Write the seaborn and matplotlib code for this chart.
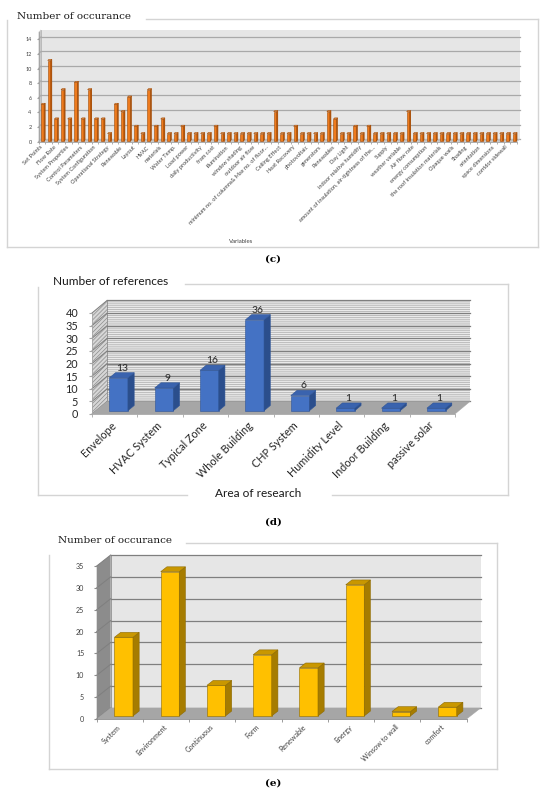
import numpy as np
import pandas as pd
import matplotlib
matplotlib.use("Agg")
import matplotlib.pyplot as plt
from matplotlib.patches import Polygon
from matplotlib.lines import Line2D
import seaborn as sns

W, H = 550, 793

# ---------------- data ----------------
# (c) variables: 72 bars, every other one labelled
variables = ["Set Points", "Flow Rate", "System Properties", "Control Parameters",
             "System Configuration", "Operational Strategy", "Renewable", "Layout", "HVAC",
             "materials", "Water Temp.", "Load power", "daily productivity", "fram cost",
             "illumination", "window shading", "outdoor air flow",
             "minimum no. of columns& Max no. of floor...", "Ceiling Effect", "Heat Recovery",
             "photovoltaic", "generators", "Renewables", "Day Light", "indoor relative humidity",
             "amount of insulation, air-tightness of the...", "Supply", "weather variable",
             "Air flow rate", "energy consumption", "the roof insulation materials",
             "Opaque walls", "Shading", "orientation", "space dimensions", "corridor sidewall"]
occurrences = [5, 11, 3, 7, 3, 8, 3, 7, 3, 3,
               1, 5, 4, 6, 2, 1, 7, 2, 3, 1,
               1, 2, 1, 1, 1, 1, 2, 1, 1, 1,
               1, 1, 1, 1, 1, 4, 1, 1, 2, 1,
               1, 1, 1, 4, 3, 1, 1, 2, 1, 2,
               1, 1, 1, 1, 1, 4, 1, 1, 1, 1,
               1, 1, 1, 1, 1, 1, 1, 1, 1, 1,
               1, 1]

# (d) area of research
areas = ["Envelope", "HVAC System", "Typical Zone", "Whole Building", "CHP System",
         "Humidity Level", "Indoor Building", "passive solar"]
references = [13, 9, 16, 36, 6, 1, 1, 1]

# (e) topics
topics = ["System", "Environment", "Continuous", "Form", "Renewable", "Energy",
          "Winsow to wall", "comfort"]
topic_counts = [18, 33, 7, 14, 11, 30, 1, 2]

SANS = ["Lato", "DejaVu Sans"]
SERIF = ["DejaVu Serif"]
plt.rcParams["font.family"] = SANS
plt.rcParams["hatch.linewidth"] = 0.5

fig = plt.figure(figsize=(W / 100, H / 100), dpi=100)
bg = fig.add_axes([0, 0, 1, 1])
bg.set_xlim(0, W)
bg.set_ylim(H, 0)
bg.axis("off")
bg.set_zorder(-5)


def px_ax(x0, x1, yt, yb):
    return fig.add_axes([x0 / W, 1 - yb / H, (x1 - x0) / W, (yb - yt) / H])


def panel3d(ax, df, xcol, ycol, ylim, yticks, dpx, f1, f2, width,
            face, side, top, edge, wall, wall_hatch, side_wall, side_hatch,
            floor, grid_color, grid_lw, spine_color):
    ax.set_facecolor("none")
    n = len(df)
    sns.barplot(data=df, x=xcol, y=ycol, color=face, saturation=1, width=width,
                edgecolor=edge, linewidth=0.4, ax=ax, zorder=3)
    xlim = (-0.5, n - 0.5)
    ax.set_xlim(*xlim)
    ax.set_ylim(*ylim)
    ax.set_yticks(yticks)
    bb = ax.get_position()
    wpx, hpx = bb.width * W, bb.height * H
    ddx = dpx[0] * (xlim[1] - xlim[0]) / wpx
    ddy = dpx[1] * (ylim[1] - ylim[0]) / hpx
    x0, x1 = xlim
    y1 = ylim[1]
    # back wall
    ax.add_patch(Polygon([(x0 + ddx, ddy), (x1 + ddx, ddy), (x1 + ddx, y1 + ddy), (x0 + ddx, y1 + ddy)],
                         closed=True, facecolor=wall, edgecolor=wall_hatch if wall_hatch else wall,
                         hatch="--------" if wall_hatch else None, lw=0, zorder=0.1, clip_on=False))
    # left side wall
    ax.add_patch(Polygon([(x0, 0), (x0 + ddx, ddy), (x0 + ddx, y1 + ddy), (x0, y1)],
                         closed=True, facecolor=side_wall, edgecolor=side_hatch if side_hatch else side_wall,
                         hatch="////////" if side_hatch else None, lw=0, zorder=0.2, clip_on=False))
    # gridlines on back + side wall
    for v in yticks:
        ax.plot([x0 + ddx, x1 + ddx], [v + ddy, v + ddy], color=grid_color, lw=grid_lw,
                zorder=0.3, clip_on=False)
        ax.plot([x0, x0 + ddx], [v, v + ddy], color=grid_color, lw=grid_lw * 0.8,
                zorder=0.3, clip_on=False)
    ax.plot([x0 + ddx, x0 + ddx], [ddy, y1 + ddy], color=grid_color, lw=0.5, zorder=0.3, clip_on=False)
    # floor
    ax.add_patch(Polygon([(x0, 0), (x1, 0), (x1 + ddx, ddy), (x0 + ddx, ddy)],
                         closed=True, facecolor=floor, edgecolor=floor, lw=0.3, zorder=0.4, clip_on=False))
    # bars -> 3d boxes
    boxes = []
    bdx, bdy = (f2 - f1) * ddx, (f2 - f1) * ddy
    for p in ax.patches:
        if not hasattr(p, "get_width") or p.get_zorder() != 3:
            continue
        x, w, h = p.get_x(), p.get_width(), p.get_height()
        xs, ys = x + f1 * ddx, f1 * ddy
        p.set_x(xs)
        p.set_y(ys)
        p.set_clip_on(False)
        boxes.append((xs, w, ys, h))
    for xs, w, ys, h in boxes:
        ax.add_patch(Polygon([(xs + w, ys), (xs + w + bdx, ys + bdy), (xs + w + bdx, ys + h + bdy), (xs + w, ys + h)],
                             closed=True, facecolor=side, edgecolor=edge, lw=0.4, zorder=3, clip_on=False))
        ax.add_patch(Polygon([(xs, ys + h), (xs + w, ys + h), (xs + w + bdx, ys + h + bdy), (xs + bdx, ys + h + bdy)],
                             closed=True, facecolor=top, edgecolor=edge, lw=0.4, zorder=3, clip_on=False))
    for s in ["top", "right"]:
        ax.spines[s].set_visible(False)
    for s in ["left", "bottom"]:
        ax.spines[s].set_color(spine_color)
        ax.spines[s].set_linewidth(0.6)
        ax.spines[s].set_zorder(0.5)
    ax.set_xlabel("")
    ax.set_ylabel("")
    ax.set_xticks(np.arange(n + 1) - 0.5, minor=True)
    ax.tick_params(axis="x", which="major", length=0)
    ax.tick_params(axis="x", which="minor", length=2.5, color=spine_color, width=0.6)
    return boxes, bdx, bdy


# ---------------- (c) ----------------
axc = px_ax(38.5, 517, 32, 141.7)
dfc = pd.DataFrame({"idx": np.arange(len(occurrences)), "n": occurrences})
panel3d(axc, dfc, "idx", "n", (0, 15), list(range(0, 15, 2)), (2.5, 2.5), 0.3, 0.75, 0.45,
        face="#EE7B1E", side="#B4570D", top="#F6A35E", edge="#A24C08",
        wall="#E6E6E6", wall_hatch=None, side_wall="#C8C8C8", side_hatch=None,
        floor="#BDBDBD", grid_color="#A9A9A9", grid_lw=0.9, spine_color="#A0A0A0")
axc.set_xticks(np.arange(0, len(occurrences), 2))
axc.set_xticklabels(variables)
plt.setp(axc.get_xticklabels(), rotation=45, ha="right", va="center", rotation_mode="anchor",
         fontsize=4.1, color="#404040")
axc.tick_params(axis="x", which="major", pad=3.5)
axc.tick_params(axis="x", which="minor", length=1.2)
axc.tick_params(axis="y", labelsize=4.0, labelcolor="#404040", length=1.5, color="#A0A0A0", pad=3.5)

# ---------------- (d) ----------------
axd = px_ax(92, 455, 313, 414)
dfd = pd.DataFrame({"area": areas, "refs": references})
boxes, bdx, bdy = panel3d(axd, dfd, "area", "refs", (0, 40), list(range(0, 41, 5)), (15, 12.5),
                          0.26, 0.68, 0.41,
                          face="#4472C4", side="#2B4E8C", top="#3A63AE", edge="#2F5597",
                          wall="#EAEAEA", wall_hatch="#A8A8A8", side_wall="#D6D6D6", side_hatch="#8C8C8C",
                          floor="#A6A6A6", grid_color="#7F7F7F", grid_lw=0.9, spine_color="#A6A6A6")
plt.setp(axd.get_xticklabels(), rotation=45, ha="right", va="center", rotation_mode="anchor",
         fontsize=7.8, color="#262626")
axd.tick_params(axis="x", which="major", pad=7)
axd.tick_params(axis="y", labelsize=7.8, labelcolor="#262626", length=2, color="#A6A6A6", pad=8)
for (xs, w, ys, h), v in zip(boxes, references):
    axd.text(xs + w / 2 + bdx / 2, ys + h + bdy, str(v), ha="center", va="bottom",
             fontsize=7.5, family=SANS, color="#262626", clip_on=False)

# ---------------- (e) ----------------
axe = px_ax(96.7, 466.7, 566, 719)
dfe = pd.DataFrame({"topic": topics, "count": topic_counts})
panel3d(axe, dfe, "topic", "count", (0, 35), list(range(0, 36, 5)), (14, 11), 0.28, 0.72, 0.4,
        face="#FFC000", side="#A67C00", top="#C99700", edge="#8E6A00",
        wall="#E6E6E6", wall_hatch=None, side_wall="#8C8C8C", side_hatch=None,
        floor="#A6A6A6", grid_color="#7F7F7F", grid_lw=0.9, spine_color="#8C8C8C")
plt.setp(axe.get_xticklabels(), rotation=45, ha="right", va="center", rotation_mode="anchor",
         fontsize=5.1, color="#404040")
axe.tick_params(axis="x", which="major", pad=5)
axe.tick_params(axis="y", labelsize=5.1, labelcolor="#404040", length=2, color="#8C8C8C", pad=7)

# ---------------- frames, titles, captions ----------------
def line(xs, ys, c="#D4D4D4", lw=1.0):
    bg.add_line(Line2D(xs, ys, color=c, lw=lw))

# (c) frame
line([7.3, 7.3], [20, 246.7]); line([7.3, 538.3], [246.7, 246.7])
line([538.3, 538.3], [19.3, 246.7]); line([145.7, 538.3], [19.3, 19.3])
# (d) frame
line([38, 38], [287, 495]); line([38, 187], [495, 495]); line([332, 508], [495, 495])
line([508, 508], [284, 495]); line([185, 508], [284, 284])
# (e) frame
line([49.3, 49.3], [555, 769.3]); line([49.3, 496.7], [769.3, 769.3])
line([496.7, 496.7], [542.7, 769.3]); line([185.7, 496.7], [542.7, 542.7])

bg.text(17, 19, "Number of occurance", family=SERIF, fontsize=7.5, va="baseline", ha="left", color="#1a1a1a")
bg.text(241, 243, "Variables", family=SANS, fontsize=4.3, va="baseline", ha="center", color="#404040")
bg.text(273, 258.7, "(c)", family=SERIF, fontsize=7.5, fontweight="bold", va="center", ha="center")

bg.text(53, 285, "Number of references", family=SANS, fontsize=8.6, va="baseline", ha="left", color="#1a1a1a")
bg.text(258, 497, "Area of research", family=SANS, fontsize=8.6, va="baseline", ha="center", color="#1a1a1a")
bg.text(273, 522.5, "(d)", family=SERIF, fontsize=7.5, fontweight="bold", va="center", ha="center")

bg.text(57.7, 542.7, "Number of occurance", family=SERIF, fontsize=7.5, va="baseline", ha="left", color="#1a1a1a")
bg.text(273, 783, "(e)", family=SERIF, fontsize=7.5, fontweight="bold", va="center", ha="center")

fig.savefig("out.png", dpi=100)
